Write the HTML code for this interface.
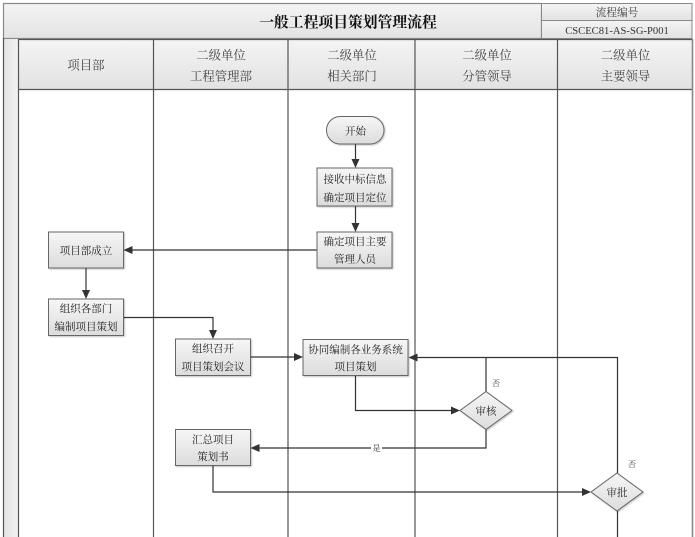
<!DOCTYPE html>
<html><head><meta charset="utf-8"><style>
html,body{margin:0;padding:0;background:#fff;width:695px;height:537px;overflow:hidden}
svg{display:block;filter:blur(0.3px)}
text{font-family:"Liberation Serif","Noto Serif CJK SC",serif;fill:#333;text-anchor:middle}
.h{font-size:12.4px;fill:#444}
.b{font-size:10.5px;fill:#222}
.box{fill:url(#g);stroke:#666;stroke-width:1;filter:url(#s)}
.ln{fill:none;stroke:#333;stroke-width:1.2}
.lane{stroke:#555;stroke-width:1.2;fill:none}
</style></head><body>
<svg width="695" height="537" viewBox="0 0 695 537" xmlns="http://www.w3.org/2000/svg">
<defs>
<linearGradient id="g" x1="0" y1="0" x2="0" y2="1"><stop offset="0" stop-color="#f6f6f6"/><stop offset="1" stop-color="#dcdcdc"/></linearGradient>
<linearGradient id="t" x1="0" y1="0" x2="0" y2="1"><stop offset="0" stop-color="#f4f4f4"/><stop offset="1" stop-color="#e2e2e2"/></linearGradient>
<linearGradient id="v" x1="0" y1="0" x2="1" y2="0"><stop offset="0" stop-color="#e4e4e4"/><stop offset="1" stop-color="#f3f3f3"/></linearGradient>
<filter id="s" x="-10%" y="-10%" width="125%" height="125%"><feDropShadow dx="1" dy="1" stdDeviation="0.7" flood-color="#000" flood-opacity="0.22"/></filter>
</defs>

<!-- title band -->
<rect x="3.5" y="3.5" width="538" height="35" fill="url(#t)" stroke="#888" stroke-width="1.2"/>
<rect x="541.5" y="3.5" width="150.5" height="17" fill="url(#t)" stroke="#888"/>
<rect x="541.5" y="20.5" width="150.5" height="18" fill="url(#t)" stroke="#888"/>
<text x="348" y="27" style="font-size:14.8px;font-weight:bold;fill:#111">一般工程项目策划管理流程</text>
<text x="617" y="16" style="font-size:10.7px;fill:#444">流程编号</text>
<text x="617" y="34" style="font-size:10.6px;fill:#333">CSCEC81-AS-SG-P001</text>

<!-- side strip -->
<rect x="4" y="39" width="14.5" height="498" fill="url(#v)"/>

<!-- header row -->
<rect x="18.5" y="39" width="674" height="50.5" fill="url(#t)"/>
<path class="lane" d="M18.5 39.5H692.5M18.5 89.5H692.5"/>

<!-- lanes -->
<path class="lane" d="M3.5 38V537M18.5 39V537M153.5 39V537M288 39V537M415 39V537M557.500 39V537"/>
<path d="M692.500 39V537" stroke="#888" stroke-width="1.6" fill="none"/>

<!-- headers -->
<text class="h" x="86" y="69.500">项目部</text>
<text class="h" x="221" y="59.500">二级单位</text><text class="h" x="221" y="80.500">工程管理部</text>
<text class="h" x="352" y="59.500">二级单位</text><text class="h" x="352" y="80.500">相关部门</text>
<text class="h" x="487" y="59.500">二级单位</text><text class="h" x="487" y="80.500">分管领导</text>
<text class="h" x="625.500" y="59.500">二级单位</text><text class="h" x="625.500" y="80.500">主要领导</text>

<!-- connectors -->
<path class="ln" d="M355.500 144V160M355.500 206V224M317 250H131M86 268V291M123.500 317.500H213V331M250.500 357H295M355.500 375V410.500H452M486 391.500V357.500H416M617.500 473V357.500H416M486 429V448H258M213 465V492H583M617.500 511V537"/>
<g fill="#333">
<path d="M355.500 168l-4-9h8z"/>
<path d="M355.500 232l-4-9h8z"/>
<path d="M123.500 250l9-4v8z"/>
<path d="M86 299l-4-9h8z"/>
<path d="M213 339l-4-9h8z"/>
<path d="M303 357l-9-4v8z"/>
<path d="M408.500 357.500l9-4v8z"/>
<path d="M460 410.500l-9-4v8z"/>
<path d="M250.500 448l9-4v8z"/>
<path d="M591 492l-9-4v8z"/>
</g>

<!-- nodes -->
<rect class="box" x="326.500" y="116.500" width="57.500" height="27.500" rx="13.700" ry="13.700"/>
<rect class="box" x="317" y="168" width="75" height="38"/>
<rect class="box" x="317" y="232" width="75" height="36"/>
<rect class="box" x="48.500" y="232" width="75" height="36"/>
<rect class="box" x="48.500" y="299" width="75" height="36.500"/>
<rect class="box" x="175.500" y="339" width="75" height="36.500"/>
<rect class="box" x="303" y="339.500" width="105" height="36"/>
<rect class="box" x="175.500" y="429.500" width="75" height="36"/>
<path class="box" d="M486 391.500L512 410.500L486 429.500L460 410.500Z"/>
<path class="box" d="M617 473L643 492L617 511L591 492Z"/>

<!-- labels -->
<text class="b" x="355.500" y="134.500">开始</text>
<text class="b" x="355" y="182.500">接收中标信息</text><text class="b" x="355" y="201">确定项目定位</text>
<text class="b" x="355" y="245">确定项目主要</text><text class="b" x="355" y="262.500">管理人员</text>
<text class="b" x="86" y="254">项目部成立</text>
<text class="b" x="86" y="312">组织各部门</text><text class="b" x="86" y="330">编制项目策划</text>
<text class="b" x="213" y="352">组织召开</text><text class="b" x="213" y="370">项目策划会议</text>
<text class="b" x="355.500" y="353">协同编制各业务系统</text><text class="b" x="355.500" y="370">项目策划</text>
<text class="b" x="213" y="443">汇总项目</text><text class="b" x="213" y="460">策划书</text>
<text class="b" x="486" y="414.500">审核</text>
<text class="b" x="617" y="496">审批</text>

<rect x="371" y="443" width="11" height="10" fill="#fff"/>
<text x="376.500" y="451" style="font-size:8px">是</text>
<text x="496" y="386" style="font-size:8px">否</text>
<text x="632" y="467" style="font-size:8px">否</text>
</svg>
</body></html>
